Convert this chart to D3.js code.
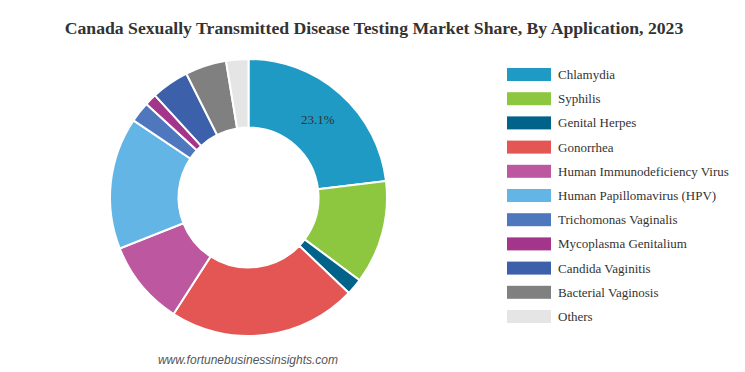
<!DOCTYPE html>
<html>
<head>
<meta charset="utf-8">
<script src="https://cdn.jsdelivr.net/npm/d3@7"></script>
<style>
  body { margin: 0; background: #fff; }
  svg text { font-family: "Liberation Serif", "Times New Roman", serif; }
</style>
</head>
<body>
<div id="chart"></div>
<script>
const categories = [
    "Chlamydia",
    "Syphilis",
    "Genital Herpes",
    "Gonorrhea",
    "Human Immunodeficiency Virus",
    "Human Papillomavirus (HPV)",
    "Trichomonas Vaginalis",
    "Mycoplasma Genitalium",
    "Candida Vaginitis",
    "Bacterial Vaginosis",
    "Others"
];
const shares = [23.1, 12.1, 1.9, 22.0, 9.9, 15.4, 2.4, 1.4, 4.4, 4.8, 2.6];
const colors = [
    "#1e9ac4", "#8dc63f", "#01628a", "#e35654", "#bd57a0",
    "#63b5e5", "#4f77be", "#a3358a", "#3d60ab", "#808080", "#e5e5e5"
];
const labelled = ["Chlamydia"];

const width = 745, height = 372;
const cx = 248.5, cy = 197.5;
const outerR = 138.5, innerR = 70;

const svg = d3.select("#chart")
    .append("svg")
    .attr("width", width)
    .attr("height", height);

svg.append("text")
    .attr("x", 374)
    .attr("y", 34)
    .attr("text-anchor", "middle")
    .attr("font-size", 17.7)
    .attr("font-weight", "bold")
    .attr("fill", "#333")
    .text("Canada Sexually Transmitted Disease Testing Market Share, By Application, 2023");

const color = d3.scaleOrdinal().domain(categories).range(colors);

const data = categories.map((c, i) => ({ name: c, value: shares[i] }));

const pie = d3.pie()
    .value((d) => d.value)
    .sort(null);

const arc = d3.arc()
    .innerRadius(innerR)
    .outerRadius(outerR);

const g = svg.append("g")
    .attr("transform", `translate(${cx}, ${cy})`);

const arcs = pie(data);

g.selectAll("path")
    .data(arcs)
    .enter()
    .append("path")
    .attr("d", arc)
    .attr("fill", (d) => color(d.data.name))
    .attr("stroke", "#fff")
    .attr("stroke-width", 2);

g.selectAll("text.pct")
    .data(arcs.filter((d) => labelled.includes(d.data.name)))
    .enter()
    .append("text")
    .attr("class", "pct")
    .attr("transform", (d) => `translate(${arc.centroid(d)})`)
    .attr("dy", "0.35em")
    .attr("text-anchor", "middle")
    .attr("font-size", 13)
    .attr("fill", "#333")
    .text((d) => d.data.value.toFixed(1) + "%");

// legend
const legendY = d3.scaleBand()
    .domain(categories)
    .range([62, 62 + 24.2 * categories.length]);

const legend = svg.append("g")
    .selectAll("g")
    .data(categories)
    .enter()
    .append("g")
    .attr("transform", (d) => `translate(507, ${legendY(d)})`);

legend.append("rect")
    .attr("y", 6)
    .attr("width", 44)
    .attr("height", 13)
    .attr("fill", (d) => color(d));

legend.append("text")
    .attr("x", 51)
    .attr("y", 12.5)
    .attr("dy", "0.35em")
    .attr("font-size", 13)
    .attr("fill", "#333")
    .text((d) => d);

svg.append("text")
    .attr("x", 248)
    .attr("y", 364)
    .attr("text-anchor", "middle")
    .attr("font-size", 12)
    .attr("font-style", "italic")
    .attr("fill", "#555")
    .style("font-family", "Arial, 'Liberation Sans', sans-serif")
    .text("www.fortunebusinessinsights.com");
</script>
</body>
</html>
